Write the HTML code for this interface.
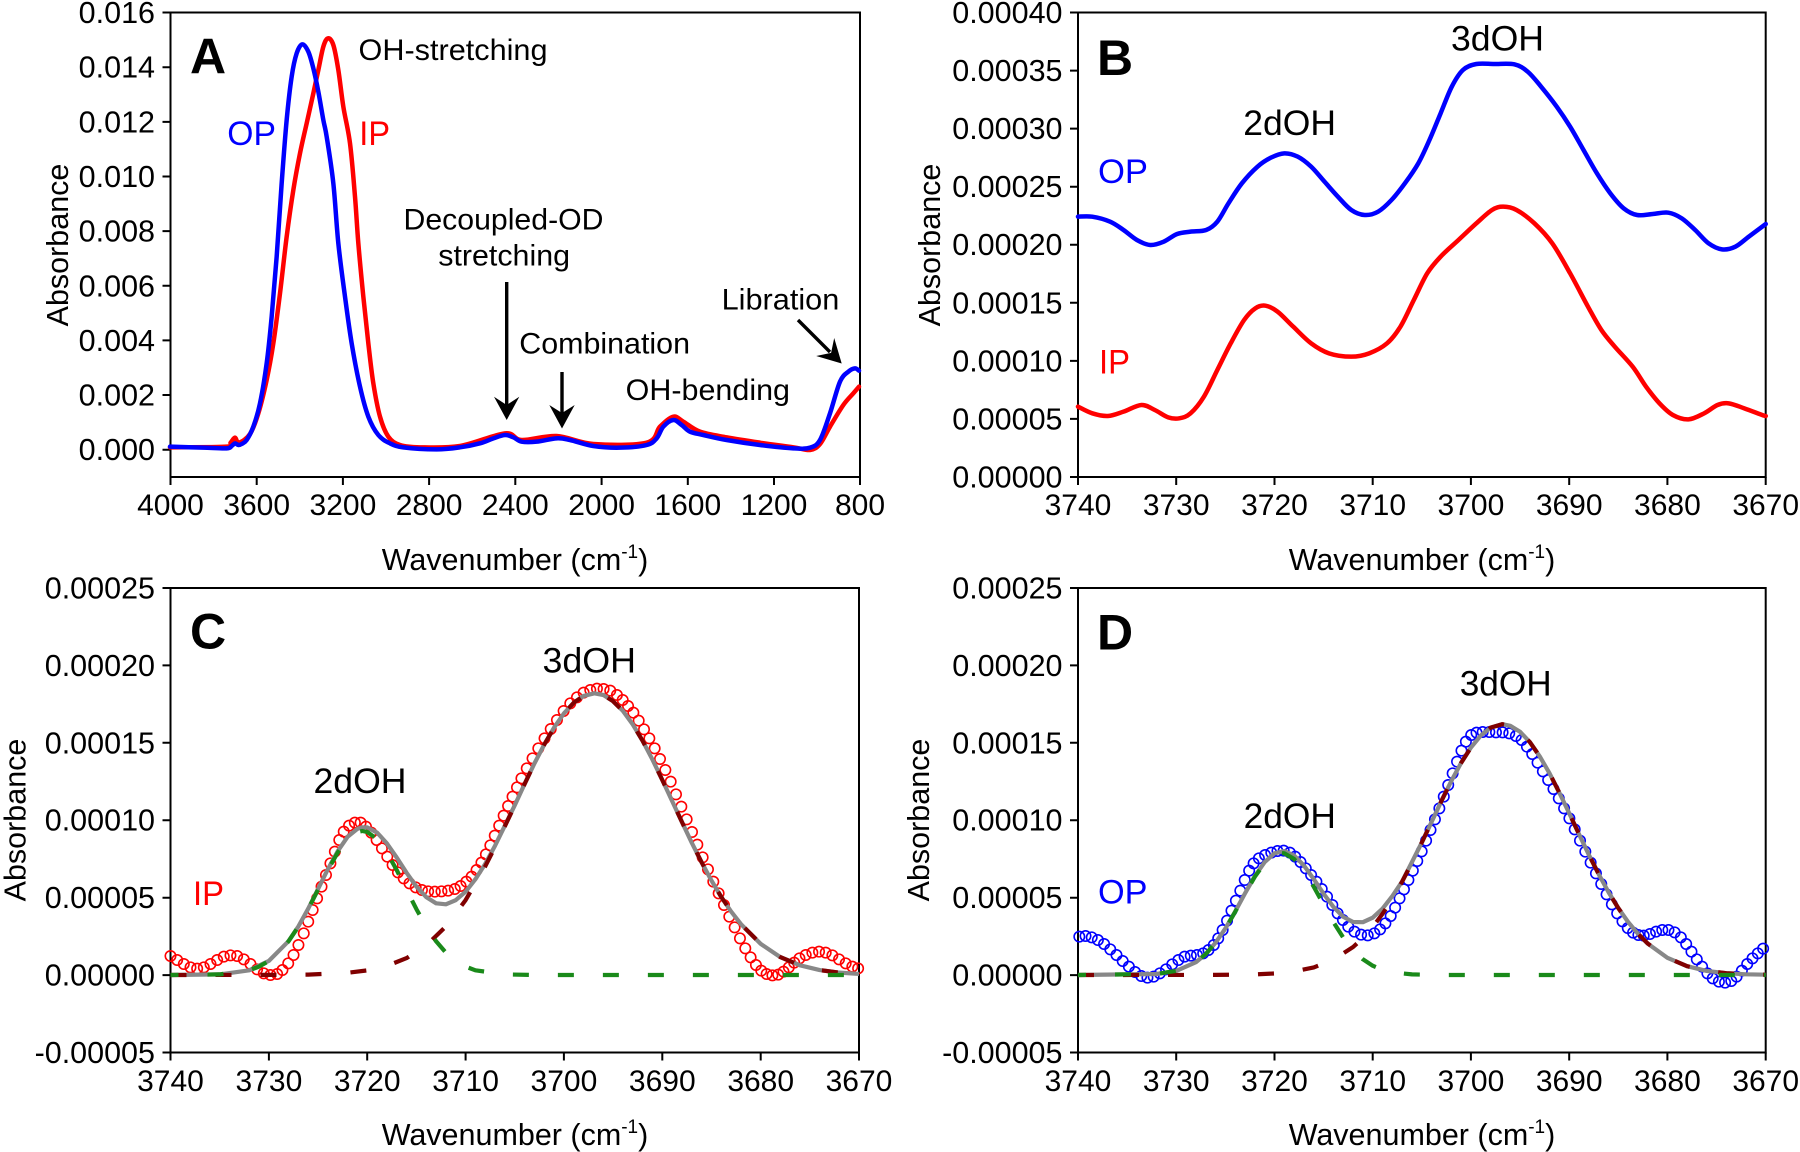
<!DOCTYPE html>
<html><head><meta charset="utf-8"><style>
html,body{margin:0;padding:0;background:#fff;}
svg{display:block;font-family:"Liberation Sans",Arial,sans-serif;}
</style></head><body>
<svg width="1800" height="1152" viewBox="0 0 1800 1152" xmlns="http://www.w3.org/2000/svg">
<rect width="1800" height="1152" fill="#fff"/>

<!-- ===== Frames ===== -->
<g fill="none" stroke="#000" stroke-width="2">
<rect x="170.5" y="12.5" width="689.5" height="464.5"/>
<rect x="1078" y="12.5" width="687.7" height="464.5"/>
<rect x="170.5" y="588" width="688.5" height="464.5"/>
<rect x="1078" y="588" width="687.7" height="464.5"/>
</g>

<!-- ===== Ticks ===== -->
<g stroke="#000" stroke-width="2">
<path d="M162.5 449.7H170.5M162.5 395H170.5M162.5 340.4H170.5M162.5 285.8H170.5M162.5 231.1H170.5M162.5 176.5H170.5M162.5 121.9H170.5M162.5 67.2H170.5M162.5 12.5H170.5"/>
<path d="M170.5 477V485M256.7 477V485M342.9 477V485M429.1 477V485M515.3 477V485M601.6 477V485M687.8 477V485M774 477V485M860 477V485"/>
<path d="M1070 477H1078M1070 418.9H1078M1070 360.9H1078M1070 302.8H1078M1070 244.75H1078M1070 186.7H1078M1070 128.6H1078M1070 70.6H1078M1070 12.5H1078"/>
<path d="M1078 477V485M1176.2 477V485M1274.5 477V485M1372.7 477V485M1470.9 477V485M1569.2 477V485M1667.4 477V485M1765.7 477V485"/>
<path d="M162.5 588H170.5M162.5 665.4H170.5M162.5 742.8H170.5M162.5 820.25H170.5M162.5 897.7H170.5M162.5 975.1H170.5M162.5 1052.5H170.5"/>
<path d="M170.5 1052.5V1060.5M268.9 1052.5V1060.5M367.2 1052.5V1060.5M465.6 1052.5V1060.5M563.9 1052.5V1060.5M662.3 1052.5V1060.5M760.7 1052.5V1060.5M859 1052.5V1060.5"/>
<path d="M1070 588H1078M1070 665.4H1078M1070 742.8H1078M1070 820.25H1078M1070 897.7H1078M1070 975.1H1078M1070 1052.5H1078"/>
<path d="M1078 1052.5V1060.5M1176.2 1052.5V1060.5M1274.5 1052.5V1060.5M1372.7 1052.5V1060.5M1470.9 1052.5V1060.5M1569.2 1052.5V1060.5M1667.4 1052.5V1060.5M1765.7 1052.5V1060.5"/>
</g>

<!-- ===== Tick labels ===== -->
<g font-size="30.5" fill="#000" text-anchor="end">
<text x="155" y="460.2">0.000</text>
<text x="155" y="405.5">0.002</text>
<text x="155" y="350.9">0.004</text>
<text x="155" y="296.3">0.006</text>
<text x="155" y="241.6">0.008</text>
<text x="155" y="187">0.010</text>
<text x="155" y="132.4">0.012</text>
<text x="155" y="77.7">0.014</text>
<text x="155" y="23">0.016</text>

<text x="1062.5" y="487.5">0.00000</text>
<text x="1062.5" y="429.4">0.00005</text>
<text x="1062.5" y="371.4">0.00010</text>
<text x="1062.5" y="313.3">0.00015</text>
<text x="1062.5" y="255.2">0.00020</text>
<text x="1062.5" y="197.2">0.00025</text>
<text x="1062.5" y="139.1">0.00030</text>
<text x="1062.5" y="81.1">0.00035</text>
<text x="1062.5" y="23">0.00040</text>

<text x="155" y="598.5">0.00025</text>
<text x="155" y="675.9">0.00020</text>
<text x="155" y="753.3">0.00015</text>
<text x="155" y="830.7">0.00010</text>
<text x="155" y="908.2">0.00005</text>
<text x="155" y="985.6">0.00000</text>
<text x="155" y="1063">-0.00005</text>

<text x="1062.5" y="598.5">0.00025</text>
<text x="1062.5" y="675.9">0.00020</text>
<text x="1062.5" y="753.3">0.00015</text>
<text x="1062.5" y="830.7">0.00010</text>
<text x="1062.5" y="908.2">0.00005</text>
<text x="1062.5" y="985.6">0.00000</text>
<text x="1062.5" y="1063">-0.00005</text>
</g>
<g font-size="30" fill="#000" text-anchor="middle">
<text x="170.5" y="515">4000</text>
<text x="256.7" y="515">3600</text>
<text x="342.9" y="515">3200</text>
<text x="429.1" y="515">2800</text>
<text x="515.3" y="515">2400</text>
<text x="601.6" y="515">2000</text>
<text x="687.8" y="515">1600</text>
<text x="774" y="515">1200</text>
<text x="860" y="515">800</text>

<text x="1078" y="515">3740</text>
<text x="1176.2" y="515">3730</text>
<text x="1274.5" y="515">3720</text>
<text x="1372.7" y="515">3710</text>
<text x="1470.9" y="515">3700</text>
<text x="1569.2" y="515">3690</text>
<text x="1667.4" y="515">3680</text>
<text x="1765.7" y="515">3670</text>

<text x="170.5" y="1091">3740</text>
<text x="268.9" y="1091">3730</text>
<text x="367.2" y="1091">3720</text>
<text x="465.6" y="1091">3710</text>
<text x="563.9" y="1091">3700</text>
<text x="662.3" y="1091">3690</text>
<text x="760.7" y="1091">3680</text>
<text x="859" y="1091">3670</text>

<text x="1078" y="1091">3740</text>
<text x="1176.2" y="1091">3730</text>
<text x="1274.5" y="1091">3720</text>
<text x="1372.7" y="1091">3710</text>
<text x="1470.9" y="1091">3700</text>
<text x="1569.2" y="1091">3690</text>
<text x="1667.4" y="1091">3680</text>
<text x="1765.7" y="1091">3670</text>
</g>

<!-- ===== Axis titles ===== -->
<g font-size="30.5" fill="#000" text-anchor="middle">
<text x="515" y="570">Wavenumber (cm<tspan font-size="19" dy="-12">-1</tspan><tspan dy="12">)</tspan></text>
<text x="1422" y="570">Wavenumber (cm<tspan font-size="19" dy="-12">-1</tspan><tspan dy="12">)</tspan></text>
<text x="515" y="1145">Wavenumber (cm<tspan font-size="19" dy="-12">-1</tspan><tspan dy="12">)</tspan></text>
<text x="1422" y="1145">Wavenumber (cm<tspan font-size="19" dy="-12">-1</tspan><tspan dy="12">)</tspan></text>
<text transform="translate(68,245) rotate(-90)">Absorbance</text>
<text transform="translate(940,245) rotate(-90)">Absorbance</text>
<text transform="translate(25.5,820) rotate(-90)">Absorbance</text>
<text transform="translate(929,820) rotate(-90)">Absorbance</text>
</g>

<!-- ===== Panel letters ===== -->
<g font-size="50" font-weight="bold" fill="#000">
<text x="190" y="73.5">A</text>
<text x="1097" y="75">B</text>
<text x="190" y="648.5">C</text>
<text x="1097" y="649.5">D</text>
</g>

<!-- ===== Panel A annotations ===== -->
<g font-size="30" fill="#000">
<text x="358.5" y="60" textLength="189" lengthAdjust="spacingAndGlyphs">OH-stretching</text>
<text x="403.5" y="229.5" textLength="200" lengthAdjust="spacingAndGlyphs">Decoupled-OD</text>
<text x="438.3" y="265.5" textLength="131.7" lengthAdjust="spacingAndGlyphs">stretching</text>
<text x="519.3" y="353.5" textLength="170.7" lengthAdjust="spacingAndGlyphs">Combination</text>
<text x="625.7" y="400" textLength="164.3" lengthAdjust="spacingAndGlyphs">OH-bending</text>
<text x="721.6" y="309.7" textLength="117.7" lengthAdjust="spacingAndGlyphs">Libration</text>
</g>
<text x="227.3" y="145" font-size="34" fill="#0000ff" textLength="48.7" lengthAdjust="spacingAndGlyphs">OP</text>
<text x="359.3" y="145" font-size="34" fill="#ff0000" textLength="30.7" lengthAdjust="spacingAndGlyphs">IP</text>

<!-- arrows -->
<g stroke="#000" stroke-width="3.4" fill="none">
<path d="M506.7 282V408"/>
<path d="M562 372V415"/>
<path d="M798 320L830 352"/>
</g>
<g fill="#000">
<polygon points="506.7,420 519.3,396.7 506.7,405 494,396.7"/>
<polygon points="562,428.5 574.7,405 562,413 549.3,405"/>
<polygon points="841.7,363.5 834.2,338 831.1,352.9 816.2,356"/>
</g>

<!-- ===== Panel A curves ===== -->
<g transform="translate(170,10) scale(0.333333)" fill="none" stroke-width="13.5" stroke-linejoin="round" stroke-linecap="round">
<polyline class="sm" stroke="#ff0000" points="0,1312 170,1310 182,1298 195,1283 207,1298 240,1272 265,1210 290,1110 310,1000 330,850 350,680 370,540 390,430 410,340 430,250 445,180 460,110 474,85 490,105 505,180 520,290 540,400 555,560 565,700 580,860 595,1000 610,1120 630,1220 655,1280 690,1305 750,1312 870,1308 1005,1270 1055,1290 1160,1278 1270,1302 1430,1298 1470,1250 1510,1220 1540,1235 1590,1265 1670,1282 1770,1298 1870,1312 1920,1320 1950,1302 1980,1250 2020,1185 2050,1150 2067,1130"/>
<polyline class="sm" stroke="#0000ff" points="0,1310 100,1313 170,1315 185,1308 195,1300 205,1305 215,1302 230,1290 250,1250 270,1180 290,1060 305,920 320,740 335,520 350,330 365,200 380,130 397,103 415,125 430,175 445,245 460,330 470,380 490,520 505,700 525,860 545,1000 570,1130 595,1220 625,1275 660,1300 700,1312 800,1318 870,1312 930,1300 970,1285 1005,1275 1030,1282 1055,1295 1100,1295 1160,1285 1200,1290 1270,1308 1350,1313 1430,1305 1460,1285 1480,1250 1510,1230 1535,1245 1560,1265 1600,1275 1670,1290 1770,1305 1870,1315 1920,1313 1950,1290 1980,1210 2010,1115 2035,1085 2055,1075 2067,1082"/>
</g>

<!-- ===== Panel B annotations ===== -->
<text x="1451" y="50.7" font-size="35" fill="#000" textLength="93" lengthAdjust="spacingAndGlyphs">3dOH</text>
<text x="1243.3" y="135" font-size="35" fill="#000" textLength="92.7" lengthAdjust="spacingAndGlyphs">2dOH</text>
<text x="1098" y="183" font-size="34" fill="#0000ff" textLength="50" lengthAdjust="spacingAndGlyphs">OP</text>
<text x="1099" y="373.3" font-size="34" fill="#ff0000" textLength="31" lengthAdjust="spacingAndGlyphs">IP</text>

<!-- ===== Panel B curves ===== -->
<g transform="matrix(0.4466 0 0 0.33333 1074.4 60)" fill="none" stroke-width="4.5" stroke-linejoin="round" stroke-linecap="round">
<polyline class="sm" vector-effect="non-scaling-stroke" stroke="#0000ff" points="8,470 40,470 80,485 110,510 140,540 170,555 200,545 230,522 260,515 295,510 320,485 345,430 375,370 410,320 440,293 470,280 500,290 530,320 560,365 590,410 620,450 650,465 680,455 710,420 740,370 770,310 795,240 820,160 845,80 870,30 900,12 940,12 985,13 1015,35 1045,80 1080,140 1110,200 1140,270 1170,340 1200,400 1230,445 1260,465 1295,462 1330,458 1360,475 1390,510 1420,550 1450,568 1480,560 1510,530 1540,500 1548,492"/>
<polyline class="sm" vector-effect="non-scaling-stroke" stroke="#ff0000" points="8,1040 40,1060 75,1068 110,1055 150,1035 180,1050 210,1072 235,1075 260,1060 290,1010 320,930 350,850 380,780 405,745 428,737 455,755 490,800 530,850 570,880 620,890 660,880 700,850 730,800 760,720 790,640 820,590 860,540 900,490 935,450 960,440 990,450 1030,490 1070,550 1110,640 1150,740 1180,810 1210,860 1250,920 1280,980 1310,1030 1340,1065 1375,1078 1410,1060 1440,1035 1465,1030 1500,1045 1540,1065 1548,1068"/>
</g>

<!-- ===== Panel C annotations ===== -->
<text x="542.5" y="672.3" font-size="35" fill="#000" textLength="93.5" lengthAdjust="spacingAndGlyphs">3dOH</text>
<text x="313.5" y="792.8" font-size="35" fill="#000" textLength="93" lengthAdjust="spacingAndGlyphs">2dOH</text>
<text x="193" y="905" font-size="34" fill="#ff0000" textLength="31" lengthAdjust="spacingAndGlyphs">IP</text>

<!-- C circles -->
<g transform="matrix(0.4442 0 0 0.33333 166.06 680)" fill="none" stroke="#ff0000" stroke-width="1.6">
<ellipse vector-effect="non-scaling-stroke" cx="10" cy="828" rx="11.7" ry="15.6"/>
<ellipse vector-effect="non-scaling-stroke" cx="25" cy="840" rx="11.7" ry="15.6"/>
<ellipse vector-effect="non-scaling-stroke" cx="40" cy="852" rx="11.7" ry="15.6"/>
<ellipse vector-effect="non-scaling-stroke" cx="55" cy="862" rx="11.7" ry="15.6"/>
<ellipse vector-effect="non-scaling-stroke" cx="70" cy="866" rx="11.7" ry="15.6"/>
<ellipse vector-effect="non-scaling-stroke" cx="85" cy="862" rx="11.7" ry="15.6"/>
<ellipse vector-effect="non-scaling-stroke" cx="100" cy="852" rx="11.7" ry="15.6"/>
<ellipse vector-effect="non-scaling-stroke" cx="115" cy="840" rx="11.7" ry="15.6"/>
<ellipse vector-effect="non-scaling-stroke" cx="130" cy="830" rx="11.7" ry="15.6"/>
<ellipse vector-effect="non-scaling-stroke" cx="145" cy="826" rx="11.7" ry="15.6"/>
<ellipse vector-effect="non-scaling-stroke" cx="160" cy="828" rx="11.7" ry="15.6"/>
<ellipse vector-effect="non-scaling-stroke" cx="175" cy="838" rx="11.7" ry="15.6"/>
<ellipse vector-effect="non-scaling-stroke" cx="190" cy="852" rx="11.7" ry="15.6"/>
<ellipse vector-effect="non-scaling-stroke" cx="205" cy="868" rx="11.7" ry="15.6"/>
<ellipse vector-effect="non-scaling-stroke" cx="220" cy="880" rx="11.7" ry="15.6"/>
<ellipse vector-effect="non-scaling-stroke" cx="235" cy="885" rx="11.7" ry="15.6"/>
<ellipse vector-effect="non-scaling-stroke" cx="250" cy="882" rx="11.7" ry="15.6"/>
<ellipse vector-effect="non-scaling-stroke" cx="262" cy="870" rx="11.7" ry="15.6"/>
<ellipse vector-effect="non-scaling-stroke" cx="275" cy="850" rx="11.7" ry="15.6"/>
<ellipse vector-effect="non-scaling-stroke" cx="287" cy="825" rx="11.7" ry="15.6"/>
<ellipse vector-effect="non-scaling-stroke" cx="298" cy="795" rx="11.7" ry="15.6"/>
<ellipse vector-effect="non-scaling-stroke" cx="310" cy="760" rx="11.7" ry="15.6"/>
<ellipse vector-effect="non-scaling-stroke" cx="320" cy="725" rx="11.7" ry="15.6"/>
<ellipse vector-effect="non-scaling-stroke" cx="330" cy="690" rx="11.7" ry="15.6"/>
<ellipse vector-effect="non-scaling-stroke" cx="340" cy="655" rx="11.7" ry="15.6"/>
<ellipse vector-effect="non-scaling-stroke" cx="350" cy="620" rx="11.7" ry="15.6"/>
<ellipse vector-effect="non-scaling-stroke" cx="360" cy="585" rx="11.7" ry="15.6"/>
<ellipse vector-effect="non-scaling-stroke" cx="370" cy="550" rx="11.7" ry="15.6"/>
<ellipse vector-effect="non-scaling-stroke" cx="380" cy="515" rx="11.7" ry="15.6"/>
<ellipse vector-effect="non-scaling-stroke" cx="390" cy="480" rx="11.7" ry="15.6"/>
<ellipse vector-effect="non-scaling-stroke" cx="400" cy="455" rx="11.7" ry="15.6"/>
<ellipse vector-effect="non-scaling-stroke" cx="412" cy="437" rx="11.7" ry="15.6"/>
<ellipse vector-effect="non-scaling-stroke" cx="425" cy="428" rx="11.7" ry="15.6"/>
<ellipse vector-effect="non-scaling-stroke" cx="438" cy="428" rx="11.7" ry="15.6"/>
<ellipse vector-effect="non-scaling-stroke" cx="450" cy="440" rx="11.7" ry="15.6"/>
<ellipse vector-effect="non-scaling-stroke" cx="462" cy="458" rx="11.7" ry="15.6"/>
<ellipse vector-effect="non-scaling-stroke" cx="474" cy="480" rx="11.7" ry="15.6"/>
<ellipse vector-effect="non-scaling-stroke" cx="486" cy="505" rx="11.7" ry="15.6"/>
<ellipse vector-effect="non-scaling-stroke" cx="498" cy="530" rx="11.7" ry="15.6"/>
<ellipse vector-effect="non-scaling-stroke" cx="510" cy="555" rx="11.7" ry="15.6"/>
<ellipse vector-effect="non-scaling-stroke" cx="522" cy="577" rx="11.7" ry="15.6"/>
<ellipse vector-effect="non-scaling-stroke" cx="535" cy="595" rx="11.7" ry="15.6"/>
<ellipse vector-effect="non-scaling-stroke" cx="548" cy="610" rx="11.7" ry="15.6"/>
<ellipse vector-effect="non-scaling-stroke" cx="562" cy="622" rx="11.7" ry="15.6"/>
<ellipse vector-effect="non-scaling-stroke" cx="576" cy="630" rx="11.7" ry="15.6"/>
<ellipse vector-effect="non-scaling-stroke" cx="590" cy="634" rx="11.7" ry="15.6"/>
<ellipse vector-effect="non-scaling-stroke" cx="605" cy="635" rx="11.7" ry="15.6"/>
<ellipse vector-effect="non-scaling-stroke" cx="620" cy="634" rx="11.7" ry="15.6"/>
<ellipse vector-effect="non-scaling-stroke" cx="635" cy="632" rx="11.7" ry="15.6"/>
<ellipse vector-effect="non-scaling-stroke" cx="650" cy="627" rx="11.7" ry="15.6"/>
<ellipse vector-effect="non-scaling-stroke" cx="663" cy="618" rx="11.7" ry="15.6"/>
<ellipse vector-effect="non-scaling-stroke" cx="676" cy="605" rx="11.7" ry="15.6"/>
<ellipse vector-effect="non-scaling-stroke" cx="688" cy="590" rx="11.7" ry="15.6"/>
<ellipse vector-effect="non-scaling-stroke" cx="699" cy="570" rx="11.7" ry="15.6"/>
<ellipse vector-effect="non-scaling-stroke" cx="710" cy="548" rx="11.7" ry="15.6"/>
<ellipse vector-effect="non-scaling-stroke" cx="720" cy="523" rx="11.7" ry="15.6"/>
<ellipse vector-effect="non-scaling-stroke" cx="730" cy="496" rx="11.7" ry="15.6"/>
<ellipse vector-effect="non-scaling-stroke" cx="740" cy="467" rx="11.7" ry="15.6"/>
<ellipse vector-effect="non-scaling-stroke" cx="750" cy="437" rx="11.7" ry="15.6"/>
<ellipse vector-effect="non-scaling-stroke" cx="760" cy="407" rx="11.7" ry="15.6"/>
<ellipse vector-effect="non-scaling-stroke" cx="770" cy="378" rx="11.7" ry="15.6"/>
<ellipse vector-effect="non-scaling-stroke" cx="780" cy="350" rx="11.7" ry="15.6"/>
<ellipse vector-effect="non-scaling-stroke" cx="790" cy="322" rx="11.7" ry="15.6"/>
<ellipse vector-effect="non-scaling-stroke" cx="800" cy="295" rx="11.7" ry="15.6"/>
<ellipse vector-effect="non-scaling-stroke" cx="812" cy="265" rx="11.7" ry="15.6"/>
<ellipse vector-effect="non-scaling-stroke" cx="825" cy="235" rx="11.7" ry="15.6"/>
<ellipse vector-effect="non-scaling-stroke" cx="838" cy="205" rx="11.7" ry="15.6"/>
<ellipse vector-effect="non-scaling-stroke" cx="852" cy="175" rx="11.7" ry="15.6"/>
<ellipse vector-effect="non-scaling-stroke" cx="866" cy="147" rx="11.7" ry="15.6"/>
<ellipse vector-effect="non-scaling-stroke" cx="880" cy="120" rx="11.7" ry="15.6"/>
<ellipse vector-effect="non-scaling-stroke" cx="895" cy="93" rx="11.7" ry="15.6"/>
<ellipse vector-effect="non-scaling-stroke" cx="910" cy="70" rx="11.7" ry="15.6"/>
<ellipse vector-effect="non-scaling-stroke" cx="925" cy="52" rx="11.7" ry="15.6"/>
<ellipse vector-effect="non-scaling-stroke" cx="940" cy="38" rx="11.7" ry="15.6"/>
<ellipse vector-effect="non-scaling-stroke" cx="955" cy="30" rx="11.7" ry="15.6"/>
<ellipse vector-effect="non-scaling-stroke" cx="970" cy="26" rx="11.7" ry="15.6"/>
<ellipse vector-effect="non-scaling-stroke" cx="985" cy="27" rx="11.7" ry="15.6"/>
<ellipse vector-effect="non-scaling-stroke" cx="1000" cy="32" rx="11.7" ry="15.6"/>
<ellipse vector-effect="non-scaling-stroke" cx="1015" cy="45" rx="11.7" ry="15.6"/>
<ellipse vector-effect="non-scaling-stroke" cx="1028" cy="60" rx="11.7" ry="15.6"/>
<ellipse vector-effect="non-scaling-stroke" cx="1040" cy="78" rx="11.7" ry="15.6"/>
<ellipse vector-effect="non-scaling-stroke" cx="1052" cy="98" rx="11.7" ry="15.6"/>
<ellipse vector-effect="non-scaling-stroke" cx="1064" cy="122" rx="11.7" ry="15.6"/>
<ellipse vector-effect="non-scaling-stroke" cx="1076" cy="148" rx="11.7" ry="15.6"/>
<ellipse vector-effect="non-scaling-stroke" cx="1088" cy="175" rx="11.7" ry="15.6"/>
<ellipse vector-effect="non-scaling-stroke" cx="1100" cy="205" rx="11.7" ry="15.6"/>
<ellipse vector-effect="non-scaling-stroke" cx="1112" cy="237" rx="11.7" ry="15.6"/>
<ellipse vector-effect="non-scaling-stroke" cx="1124" cy="270" rx="11.7" ry="15.6"/>
<ellipse vector-effect="non-scaling-stroke" cx="1136" cy="305" rx="11.7" ry="15.6"/>
<ellipse vector-effect="non-scaling-stroke" cx="1148" cy="343" rx="11.7" ry="15.6"/>
<ellipse vector-effect="non-scaling-stroke" cx="1160" cy="380" rx="11.7" ry="15.6"/>
<ellipse vector-effect="non-scaling-stroke" cx="1172" cy="418" rx="11.7" ry="15.6"/>
<ellipse vector-effect="non-scaling-stroke" cx="1184" cy="456" rx="11.7" ry="15.6"/>
<ellipse vector-effect="non-scaling-stroke" cx="1196" cy="494" rx="11.7" ry="15.6"/>
<ellipse vector-effect="non-scaling-stroke" cx="1208" cy="532" rx="11.7" ry="15.6"/>
<ellipse vector-effect="non-scaling-stroke" cx="1220" cy="568" rx="11.7" ry="15.6"/>
<ellipse vector-effect="non-scaling-stroke" cx="1232" cy="605" rx="11.7" ry="15.6"/>
<ellipse vector-effect="non-scaling-stroke" cx="1244" cy="640" rx="11.7" ry="15.6"/>
<ellipse vector-effect="non-scaling-stroke" cx="1256" cy="675" rx="11.7" ry="15.6"/>
<ellipse vector-effect="non-scaling-stroke" cx="1268" cy="710" rx="11.7" ry="15.6"/>
<ellipse vector-effect="non-scaling-stroke" cx="1280" cy="742" rx="11.7" ry="15.6"/>
<ellipse vector-effect="non-scaling-stroke" cx="1292" cy="775" rx="11.7" ry="15.6"/>
<ellipse vector-effect="non-scaling-stroke" cx="1304" cy="805" rx="11.7" ry="15.6"/>
<ellipse vector-effect="non-scaling-stroke" cx="1316" cy="832" rx="11.7" ry="15.6"/>
<ellipse vector-effect="non-scaling-stroke" cx="1328" cy="855" rx="11.7" ry="15.6"/>
<ellipse vector-effect="non-scaling-stroke" cx="1340" cy="872" rx="11.7" ry="15.6"/>
<ellipse vector-effect="non-scaling-stroke" cx="1352" cy="882" rx="11.7" ry="15.6"/>
<ellipse vector-effect="non-scaling-stroke" cx="1365" cy="886" rx="11.7" ry="15.6"/>
<ellipse vector-effect="non-scaling-stroke" cx="1378" cy="884" rx="11.7" ry="15.6"/>
<ellipse vector-effect="non-scaling-stroke" cx="1390" cy="875" rx="11.7" ry="15.6"/>
<ellipse vector-effect="non-scaling-stroke" cx="1402" cy="862" rx="11.7" ry="15.6"/>
<ellipse vector-effect="non-scaling-stroke" cx="1414" cy="848" rx="11.7" ry="15.6"/>
<ellipse vector-effect="non-scaling-stroke" cx="1426" cy="835" rx="11.7" ry="15.6"/>
<ellipse vector-effect="non-scaling-stroke" cx="1440" cy="825" rx="11.7" ry="15.6"/>
<ellipse vector-effect="non-scaling-stroke" cx="1455" cy="818" rx="11.7" ry="15.6"/>
<ellipse vector-effect="non-scaling-stroke" cx="1470" cy="815" rx="11.7" ry="15.6"/>
<ellipse vector-effect="non-scaling-stroke" cx="1485" cy="818" rx="11.7" ry="15.6"/>
<ellipse vector-effect="non-scaling-stroke" cx="1500" cy="826" rx="11.7" ry="15.6"/>
<ellipse vector-effect="non-scaling-stroke" cx="1515" cy="838" rx="11.7" ry="15.6"/>
<ellipse vector-effect="non-scaling-stroke" cx="1530" cy="850" rx="11.7" ry="15.6"/>
<ellipse vector-effect="non-scaling-stroke" cx="1545" cy="860" rx="11.7" ry="15.6"/>
<ellipse vector-effect="non-scaling-stroke" cx="1558" cy="865" rx="11.7" ry="15.6"/>
</g>

<!-- C fit curves -->
<g fill="none" stroke-width="4.2" stroke-linejoin="round">
<polyline stroke="#888888" points="170.5,975 219.7,974.4 249.2,970.3 268.9,960.9 288.5,941.2 298.4,926.4 308.2,908.7 318,889.1 327.9,869.1 337.7,851.2 347.5,836.9 357.4,828.9 362.3,827.3 367.2,827.3 377.1,832.6 386.9,843.4 396.7,857.5 406.6,872.8 416.4,886.6 426.2,897.1 436.1,903.3 445.9,904.3 455.7,900.2 465.6,891.7 475.4,879.2 485.3,863.7 495.1,845.6 504.9,825.6 514.8,805.2 524.6,784 534.4,763.5 544.3,744.5 554.1,727.6 563.9,713.4 573.8,702.7 583.6,695.9 594.4,693.3 603.3,695 612.8,701 622.9,710.9 632.8,724.5 642.6,740.8 652.5,759.7 662.3,780 672.1,801 682,822.1 691.8,842.8 701.6,862.3 711.5,880.6 721.3,897 731.1,911.5 741,924.2 760.7,943.9 780.3,957.1 800,965.3 819.7,970.1 839.4,972.65 859,973.95"/>
<polyline stroke="#800000" stroke-dasharray="16 29" points="170.5,975 268.9,974.9 308.2,974.6 347.5,972.8 367.2,970.4 386.9,965.9 406.6,958.1 426.2,945.5 445.9,926.5 465.6,900.1 485.3,866.2 495.1,846.8 504.9,826.2 514.8,805.2 524.6,784 534.4,763.5 544.3,744.5 554.1,727.6 563.9,713.4 573.8,702.7 583.6,695.9 594.4,693.3 603.3,695 612.8,701 622.9,710.9 632.8,724.5 642.6,740.8 652.5,759.7 662.3,780 672.1,801 682,822.1 691.8,842.8 701.6,862.3 711.5,880.6 721.3,897 731.1,911.5 741,924.2 760.7,943.9 780.3,957.1 800,965.3 819.7,970.1 839.4,972.65 859,973.95"/>
<polyline stroke="#1a8a1a" stroke-dasharray="16 29" stroke-dashoffset="8" points="170.5,975 219.7,974.4 249.2,970.3 259,966.6 268.9,961 278.7,952.7 288.5,941.3 298.4,926.6 308.2,909.1 318,889.7 327.9,870 337.7,852.6 347.5,839.1 357.4,832 362.3,831 367.2,832 377.1,839.1 386.9,852.6 396.7,870 406.6,889.7 416.4,909.1 426.2,926.6 436.1,941.3 445.9,952.7 455.7,961 465.6,966.6 475.4,970.3 504.9,974.4 534.4,975 859,975"/>
</g>

<!-- ===== Panel D annotations ===== -->
<text x="1459.7" y="695.3" font-size="35" fill="#000" textLength="92" lengthAdjust="spacingAndGlyphs">3dOH</text>
<text x="1243.6" y="828" font-size="35" fill="#000" textLength="92.3" lengthAdjust="spacingAndGlyphs">2dOH</text>
<text x="1098" y="903.3" font-size="34" fill="#0000ff" textLength="49.5" lengthAdjust="spacingAndGlyphs">OP</text>

<!-- D circles -->
<g transform="matrix(0.4423 0 0 0.33333 1075.79 680)" fill="none" stroke="#0000ff" stroke-width="1.6">
<ellipse vector-effect="non-scaling-stroke" cx="8" cy="770" rx="11.76" ry="15.6"/>
<ellipse vector-effect="non-scaling-stroke" cx="22" cy="768" rx="11.76" ry="15.6"/>
<ellipse vector-effect="non-scaling-stroke" cx="36" cy="772" rx="11.76" ry="15.6"/>
<ellipse vector-effect="non-scaling-stroke" cx="50" cy="780" rx="11.76" ry="15.6"/>
<ellipse vector-effect="non-scaling-stroke" cx="64" cy="792" rx="11.76" ry="15.6"/>
<ellipse vector-effect="non-scaling-stroke" cx="78" cy="808" rx="11.76" ry="15.6"/>
<ellipse vector-effect="non-scaling-stroke" cx="92" cy="825" rx="11.76" ry="15.6"/>
<ellipse vector-effect="non-scaling-stroke" cx="106" cy="843" rx="11.76" ry="15.6"/>
<ellipse vector-effect="non-scaling-stroke" cx="120" cy="860" rx="11.76" ry="15.6"/>
<ellipse vector-effect="non-scaling-stroke" cx="134" cy="876" rx="11.76" ry="15.6"/>
<ellipse vector-effect="non-scaling-stroke" cx="148" cy="888" rx="11.76" ry="15.6"/>
<ellipse vector-effect="non-scaling-stroke" cx="162" cy="893" rx="11.76" ry="15.6"/>
<ellipse vector-effect="non-scaling-stroke" cx="176" cy="890" rx="11.76" ry="15.6"/>
<ellipse vector-effect="non-scaling-stroke" cx="190" cy="880" rx="11.76" ry="15.6"/>
<ellipse vector-effect="non-scaling-stroke" cx="204" cy="868" rx="11.76" ry="15.6"/>
<ellipse vector-effect="non-scaling-stroke" cx="218" cy="853" rx="11.76" ry="15.6"/>
<ellipse vector-effect="non-scaling-stroke" cx="232" cy="840" rx="11.76" ry="15.6"/>
<ellipse vector-effect="non-scaling-stroke" cx="246" cy="830" rx="11.76" ry="15.6"/>
<ellipse vector-effect="non-scaling-stroke" cx="260" cy="827" rx="11.76" ry="15.6"/>
<ellipse vector-effect="non-scaling-stroke" cx="274" cy="825" rx="11.76" ry="15.6"/>
<ellipse vector-effect="non-scaling-stroke" cx="288" cy="820" rx="11.76" ry="15.6"/>
<ellipse vector-effect="non-scaling-stroke" cx="300" cy="810" rx="11.76" ry="15.6"/>
<ellipse vector-effect="non-scaling-stroke" cx="312" cy="795" rx="11.76" ry="15.6"/>
<ellipse vector-effect="non-scaling-stroke" cx="322" cy="775" rx="11.76" ry="15.6"/>
<ellipse vector-effect="non-scaling-stroke" cx="332" cy="750" rx="11.76" ry="15.6"/>
<ellipse vector-effect="non-scaling-stroke" cx="342" cy="722" rx="11.76" ry="15.6"/>
<ellipse vector-effect="non-scaling-stroke" cx="352" cy="692" rx="11.76" ry="15.6"/>
<ellipse vector-effect="non-scaling-stroke" cx="362" cy="662" rx="11.76" ry="15.6"/>
<ellipse vector-effect="non-scaling-stroke" cx="372" cy="632" rx="11.76" ry="15.6"/>
<ellipse vector-effect="non-scaling-stroke" cx="382" cy="600" rx="11.76" ry="15.6"/>
<ellipse vector-effect="non-scaling-stroke" cx="392" cy="572" rx="11.76" ry="15.6"/>
<ellipse vector-effect="non-scaling-stroke" cx="402" cy="550" rx="11.76" ry="15.6"/>
<ellipse vector-effect="non-scaling-stroke" cx="414" cy="535" rx="11.76" ry="15.6"/>
<ellipse vector-effect="non-scaling-stroke" cx="428" cy="525" rx="11.76" ry="15.6"/>
<ellipse vector-effect="non-scaling-stroke" cx="442" cy="518" rx="11.76" ry="15.6"/>
<ellipse vector-effect="non-scaling-stroke" cx="456" cy="513" rx="11.76" ry="15.6"/>
<ellipse vector-effect="non-scaling-stroke" cx="470" cy="512" rx="11.76" ry="15.6"/>
<ellipse vector-effect="non-scaling-stroke" cx="484" cy="518" rx="11.76" ry="15.6"/>
<ellipse vector-effect="non-scaling-stroke" cx="496" cy="530" rx="11.76" ry="15.6"/>
<ellipse vector-effect="non-scaling-stroke" cx="508" cy="546" rx="11.76" ry="15.6"/>
<ellipse vector-effect="non-scaling-stroke" cx="520" cy="565" rx="11.76" ry="15.6"/>
<ellipse vector-effect="non-scaling-stroke" cx="532" cy="585" rx="11.76" ry="15.6"/>
<ellipse vector-effect="non-scaling-stroke" cx="544" cy="605" rx="11.76" ry="15.6"/>
<ellipse vector-effect="non-scaling-stroke" cx="556" cy="627" rx="11.76" ry="15.6"/>
<ellipse vector-effect="non-scaling-stroke" cx="568" cy="650" rx="11.76" ry="15.6"/>
<ellipse vector-effect="non-scaling-stroke" cx="580" cy="675" rx="11.76" ry="15.6"/>
<ellipse vector-effect="non-scaling-stroke" cx="592" cy="700" rx="11.76" ry="15.6"/>
<ellipse vector-effect="non-scaling-stroke" cx="604" cy="720" rx="11.76" ry="15.6"/>
<ellipse vector-effect="non-scaling-stroke" cx="616" cy="740" rx="11.76" ry="15.6"/>
<ellipse vector-effect="non-scaling-stroke" cx="630" cy="755" rx="11.76" ry="15.6"/>
<ellipse vector-effect="non-scaling-stroke" cx="645" cy="764" rx="11.76" ry="15.6"/>
<ellipse vector-effect="non-scaling-stroke" cx="660" cy="766" rx="11.76" ry="15.6"/>
<ellipse vector-effect="non-scaling-stroke" cx="675" cy="760" rx="11.76" ry="15.6"/>
<ellipse vector-effect="non-scaling-stroke" cx="688" cy="748" rx="11.76" ry="15.6"/>
<ellipse vector-effect="non-scaling-stroke" cx="700" cy="730" rx="11.76" ry="15.6"/>
<ellipse vector-effect="non-scaling-stroke" cx="712" cy="708" rx="11.76" ry="15.6"/>
<ellipse vector-effect="non-scaling-stroke" cx="722" cy="683" rx="11.76" ry="15.6"/>
<ellipse vector-effect="non-scaling-stroke" cx="732" cy="655" rx="11.76" ry="15.6"/>
<ellipse vector-effect="non-scaling-stroke" cx="742" cy="628" rx="11.76" ry="15.6"/>
<ellipse vector-effect="non-scaling-stroke" cx="752" cy="600" rx="11.76" ry="15.6"/>
<ellipse vector-effect="non-scaling-stroke" cx="762" cy="572" rx="11.76" ry="15.6"/>
<ellipse vector-effect="non-scaling-stroke" cx="772" cy="543" rx="11.76" ry="15.6"/>
<ellipse vector-effect="non-scaling-stroke" cx="782" cy="514" rx="11.76" ry="15.6"/>
<ellipse vector-effect="non-scaling-stroke" cx="792" cy="482" rx="11.76" ry="15.6"/>
<ellipse vector-effect="non-scaling-stroke" cx="802" cy="450" rx="11.76" ry="15.6"/>
<ellipse vector-effect="non-scaling-stroke" cx="812" cy="418" rx="11.76" ry="15.6"/>
<ellipse vector-effect="non-scaling-stroke" cx="822" cy="385" rx="11.76" ry="15.6"/>
<ellipse vector-effect="non-scaling-stroke" cx="832" cy="350" rx="11.76" ry="15.6"/>
<ellipse vector-effect="non-scaling-stroke" cx="842" cy="315" rx="11.76" ry="15.6"/>
<ellipse vector-effect="non-scaling-stroke" cx="852" cy="280" rx="11.76" ry="15.6"/>
<ellipse vector-effect="non-scaling-stroke" cx="862" cy="245" rx="11.76" ry="15.6"/>
<ellipse vector-effect="non-scaling-stroke" cx="872" cy="212" rx="11.76" ry="15.6"/>
<ellipse vector-effect="non-scaling-stroke" cx="882" cy="185" rx="11.76" ry="15.6"/>
<ellipse vector-effect="non-scaling-stroke" cx="894" cy="165" rx="11.76" ry="15.6"/>
<ellipse vector-effect="non-scaling-stroke" cx="906" cy="158" rx="11.76" ry="15.6"/>
<ellipse vector-effect="non-scaling-stroke" cx="920" cy="156" rx="11.76" ry="15.6"/>
<ellipse vector-effect="non-scaling-stroke" cx="935" cy="156" rx="11.76" ry="15.6"/>
<ellipse vector-effect="non-scaling-stroke" cx="950" cy="157" rx="11.76" ry="15.6"/>
<ellipse vector-effect="non-scaling-stroke" cx="965" cy="157" rx="11.76" ry="15.6"/>
<ellipse vector-effect="non-scaling-stroke" cx="980" cy="160" rx="11.76" ry="15.6"/>
<ellipse vector-effect="non-scaling-stroke" cx="995" cy="168" rx="11.76" ry="15.6"/>
<ellipse vector-effect="non-scaling-stroke" cx="1008" cy="180" rx="11.76" ry="15.6"/>
<ellipse vector-effect="non-scaling-stroke" cx="1020" cy="200" rx="11.76" ry="15.6"/>
<ellipse vector-effect="non-scaling-stroke" cx="1032" cy="222" rx="11.76" ry="15.6"/>
<ellipse vector-effect="non-scaling-stroke" cx="1044" cy="248" rx="11.76" ry="15.6"/>
<ellipse vector-effect="non-scaling-stroke" cx="1056" cy="274" rx="11.76" ry="15.6"/>
<ellipse vector-effect="non-scaling-stroke" cx="1068" cy="300" rx="11.76" ry="15.6"/>
<ellipse vector-effect="non-scaling-stroke" cx="1080" cy="327" rx="11.76" ry="15.6"/>
<ellipse vector-effect="non-scaling-stroke" cx="1092" cy="355" rx="11.76" ry="15.6"/>
<ellipse vector-effect="non-scaling-stroke" cx="1104" cy="385" rx="11.76" ry="15.6"/>
<ellipse vector-effect="non-scaling-stroke" cx="1116" cy="415" rx="11.76" ry="15.6"/>
<ellipse vector-effect="non-scaling-stroke" cx="1128" cy="448" rx="11.76" ry="15.6"/>
<ellipse vector-effect="non-scaling-stroke" cx="1140" cy="482" rx="11.76" ry="15.6"/>
<ellipse vector-effect="non-scaling-stroke" cx="1152" cy="515" rx="11.76" ry="15.6"/>
<ellipse vector-effect="non-scaling-stroke" cx="1164" cy="548" rx="11.76" ry="15.6"/>
<ellipse vector-effect="non-scaling-stroke" cx="1176" cy="580" rx="11.76" ry="15.6"/>
<ellipse vector-effect="non-scaling-stroke" cx="1188" cy="612" rx="11.76" ry="15.6"/>
<ellipse vector-effect="non-scaling-stroke" cx="1200" cy="643" rx="11.76" ry="15.6"/>
<ellipse vector-effect="non-scaling-stroke" cx="1212" cy="673" rx="11.76" ry="15.6"/>
<ellipse vector-effect="non-scaling-stroke" cx="1224" cy="700" rx="11.76" ry="15.6"/>
<ellipse vector-effect="non-scaling-stroke" cx="1236" cy="724" rx="11.76" ry="15.6"/>
<ellipse vector-effect="non-scaling-stroke" cx="1248" cy="744" rx="11.76" ry="15.6"/>
<ellipse vector-effect="non-scaling-stroke" cx="1260" cy="758" rx="11.76" ry="15.6"/>
<ellipse vector-effect="non-scaling-stroke" cx="1272" cy="765" rx="11.76" ry="15.6"/>
<ellipse vector-effect="non-scaling-stroke" cx="1284" cy="767" rx="11.76" ry="15.6"/>
<ellipse vector-effect="non-scaling-stroke" cx="1298" cy="762" rx="11.76" ry="15.6"/>
<ellipse vector-effect="non-scaling-stroke" cx="1312" cy="755" rx="11.76" ry="15.6"/>
<ellipse vector-effect="non-scaling-stroke" cx="1326" cy="750" rx="11.76" ry="15.6"/>
<ellipse vector-effect="non-scaling-stroke" cx="1340" cy="750" rx="11.76" ry="15.6"/>
<ellipse vector-effect="non-scaling-stroke" cx="1354" cy="757" rx="11.76" ry="15.6"/>
<ellipse vector-effect="non-scaling-stroke" cx="1368" cy="772" rx="11.76" ry="15.6"/>
<ellipse vector-effect="non-scaling-stroke" cx="1380" cy="792" rx="11.76" ry="15.6"/>
<ellipse vector-effect="non-scaling-stroke" cx="1392" cy="815" rx="11.76" ry="15.6"/>
<ellipse vector-effect="non-scaling-stroke" cx="1404" cy="838" rx="11.76" ry="15.6"/>
<ellipse vector-effect="non-scaling-stroke" cx="1416" cy="860" rx="11.76" ry="15.6"/>
<ellipse vector-effect="non-scaling-stroke" cx="1428" cy="880" rx="11.76" ry="15.6"/>
<ellipse vector-effect="non-scaling-stroke" cx="1440" cy="895" rx="11.76" ry="15.6"/>
<ellipse vector-effect="non-scaling-stroke" cx="1454" cy="905" rx="11.76" ry="15.6"/>
<ellipse vector-effect="non-scaling-stroke" cx="1468" cy="908" rx="11.76" ry="15.6"/>
<ellipse vector-effect="non-scaling-stroke" cx="1482" cy="903" rx="11.76" ry="15.6"/>
<ellipse vector-effect="non-scaling-stroke" cx="1494" cy="890" rx="11.76" ry="15.6"/>
<ellipse vector-effect="non-scaling-stroke" cx="1506" cy="872" rx="11.76" ry="15.6"/>
<ellipse vector-effect="non-scaling-stroke" cx="1518" cy="852" rx="11.76" ry="15.6"/>
<ellipse vector-effect="non-scaling-stroke" cx="1530" cy="835" rx="11.76" ry="15.6"/>
<ellipse vector-effect="non-scaling-stroke" cx="1542" cy="820" rx="11.76" ry="15.6"/>
<ellipse vector-effect="non-scaling-stroke" cx="1554" cy="806" rx="11.76" ry="15.6"/>
</g>

<!-- D fit curves -->
<g fill="none" stroke-width="4.2" stroke-linejoin="round">
<polyline stroke="#888888" points="1078,975 1156.6,974 1176.2,970.9 1195.9,962.2 1205.7,954.1 1215.5,942.8 1225.4,928.4 1235.2,911.5 1245,893.4 1254.8,876.2 1264.7,862.1 1274.5,853.3 1284.3,851 1294.1,855.5 1304,865.6 1313.8,879.2 1323.6,893.7 1333.4,906.9 1343.2,916.8 1353.1,922 1362.9,922.2 1372.7,917.7 1382.5,908.7 1392.4,896 1402.2,881.3 1412,862 1421.8,842.5 1431.7,821.7 1441.5,800.8 1451.3,781 1461.1,762.9 1471,747.4 1480.8,735.5 1490.6,727.6 1502.4,724.2 1510.3,725.8 1520.1,731.8 1529.9,742.2 1539.7,756.3 1549.6,773.4 1559.4,792.8 1569.2,813.2 1579,834.1 1588.8,854.7 1598.7,874.2 1608.5,892.1 1618.3,908.1 1628.1,922 1638,933.8 1647.8,943.6 1667.4,957.8 1687.1,966.2 1706.7,970.9 1726.4,973.2 1746,974.3 1765.7,974.7"/>
<polyline stroke="#800000" stroke-dasharray="16 29" points="1078,975 1215.5,974.9 1254.8,974.4 1274.5,973.5 1294.1,971.5 1313.8,967.4 1333.4,959.8 1353.1,947 1362.9,938 1372.7,927 1382.5,913.9 1392.4,898.7 1402.2,881.5 1412,862.6 1421.8,842.5 1431.7,821.7 1441.5,800.8 1451.3,781 1461.1,762.9 1471,747.4 1480.8,735.5 1490.6,727.6 1502.4,724.2 1510.3,725.8 1520.1,731.8 1529.9,742.2 1539.7,756.3 1549.6,773.4 1559.4,792.8 1569.2,813.2 1579,834.1 1588.8,854.7 1598.7,874.2 1608.5,892.1 1618.3,908.1 1628.1,922 1638,933.8 1647.8,943.6 1667.4,957.8 1687.1,966.2 1706.7,970.9 1726.4,973.2 1746,974.3 1765.7,974.7"/>
<polyline stroke="#1a8a1a" stroke-dasharray="16 29" stroke-dashoffset="8" points="1078,975 1156.6,974 1176.2,970.9 1195.9,962.2 1205.7,954.1 1215.5,942.9 1225.4,928.6 1235.2,911.8 1245,893.8 1254.8,876.8 1264.7,863.1 1274.5,854.8 1281.4,853 1284.3,853.3 1294.1,859 1304,870.8 1313.8,886.8 1323.6,904.6 1333.4,922.1 1343.2,937.5 1353.1,950 1362.9,959.3 1372.7,965.7 1382.5,969.8 1392.4,972.3 1412,974.4 1441.5,975 1765.7,975"/>
</g>

</svg>
<script>
(function(){
  var list = document.querySelectorAll('polyline.sm');
  for (var k = 0; k < list.length; k++) {
    var pl = list[k];
    var raw = pl.getAttribute('points').trim().split(/\s+/);
    var pts = [];
    for (var i = 0; i < raw.length; i++) { var a = raw[i].split(','); pts.push([+a[0], +a[1]]); }
    var d = 'M' + pts[0][0] + ',' + pts[0][1];
    for (var i = 0; i < pts.length - 1; i++) {
      var p0 = pts[i - 1] || pts[i], p1 = pts[i], p2 = pts[i + 1], p3 = pts[i + 2] || p2;
      var c1x = p1[0] + (p2[0] - p0[0]) / 6, c1y = p1[1] + (p2[1] - p0[1]) / 6;
      var c2x = p2[0] - (p3[0] - p1[0]) / 6, c2y = p2[1] - (p3[1] - p1[1]) / 6;
      d += ' C' + c1x.toFixed(2) + ',' + c1y.toFixed(2) + ' ' + c2x.toFixed(2) + ',' + c2y.toFixed(2) + ' ' + p2[0] + ',' + p2[1];
    }
    var p = document.createElementNS('http://www.w3.org/2000/svg', 'path');
    for (var j = 0; j < pl.attributes.length; j++) {
      var at = pl.attributes[j];
      if (at.name !== 'points' && at.name !== 'class') p.setAttribute(at.name, at.value);
    }
    p.setAttribute('d', d);
    pl.parentNode.replaceChild(p, pl);
  }
})();
</script>
</body></html>
